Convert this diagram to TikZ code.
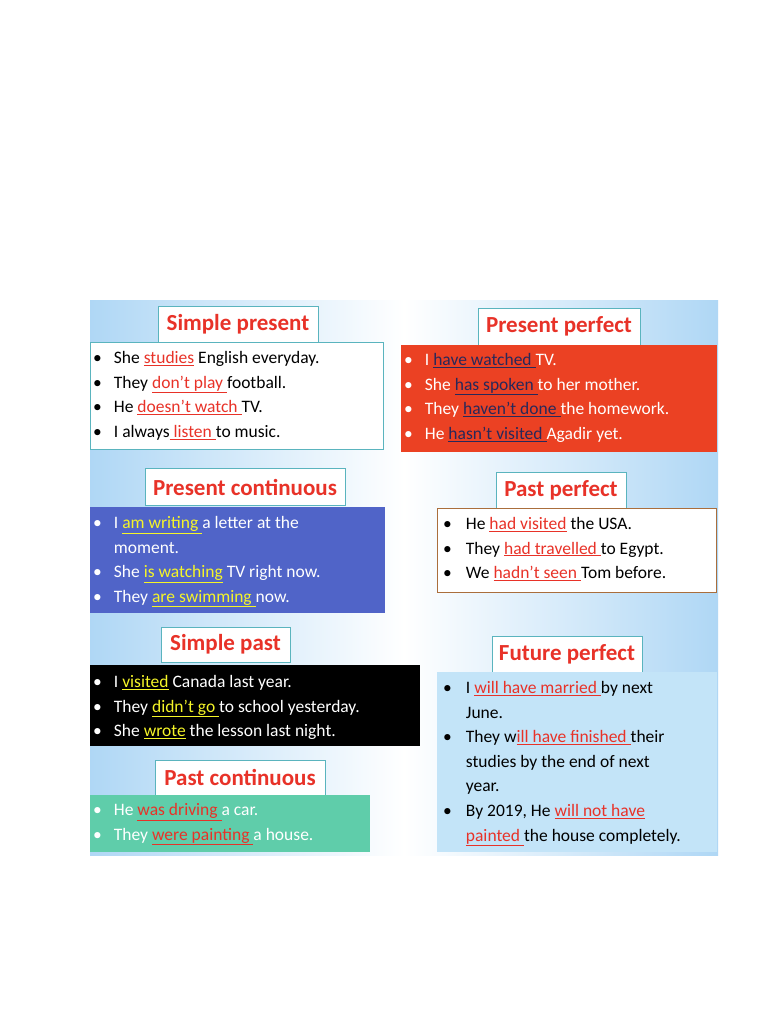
\documentclass[tikz,border=0pt]{standalone}
\usepackage{fontspec}
\setmainfont{Carlito}
\definecolor{tred}{RGB}{232,50,40}
\definecolor{teal1}{RGB}{90,180,190}
\definecolor{bgb}{RGB}{175,215,245}
\definecolor{pcblue}{RGB}{80,100,200}
\definecolor{ppred}{RGB}{235,65,35}
\definecolor{navy}{RGB}{40,40,90}
\definecolor{yel}{RGB}{245,245,40}
\definecolor{pcgreen}{RGB}{95,205,170}
\definecolor{fpblue}{RGB}{195,228,248}
\definecolor{brownb}{RGB}{170,110,60}
\newcommand\hlt[2]{{\color{#1}$\underline{\hbox{#2}}$}}
\newcommand\bl{\textbullet}
\begin{document}
\begin{tikzpicture}[x=1pt,y=-1pt,
  ttl/.style={draw=teal1,fill=white,line width=0.8pt,inner sep=0pt,text=tred,font=\fontsize{23}{26}\selectfont\bfseries},
  body/.style={anchor=north west,inner sep=0pt,align=left,font=\fontsize{17.5}{24.6}\selectfont}]
\useasboundingbox (0,0) rectangle (768,1024);
\fill[white] (0,0) rectangle (768,1024);
\shade[left color=bgb,right color=bgb,middle color=white] (90,300) rectangle (718,855);
% left column
\node[ttl,minimum width=160,minimum height=36] (t1) at (238,324) {Simple present};
\draw[teal1,fill=white,line width=0.8pt] (90,342) rectangle (383,449);
\node[body] (b1) at (93,346) {\begin{tabular}{@{}l@{\hspace{12pt}}l@{}}
\bl & She \hlt{tred}{studies} English everyday.\\
\bl & They \hlt{tred}{don’t play }football.\\
\bl & He \hlt{tred}{doesn’t watch }TV.\\
\bl & I always\hlt{tred}{ listen }to music.\end{tabular}};
\node[ttl,minimum width=200,minimum height=37] (t2) at (245,487) {Present continuous};
\fill[pcblue] (90,507) rectangle (385,613);
\node[body,text=white] (b2) at (93,511) {\begin{tabular}{@{}l@{\hspace{12pt}}l@{}}
\bl & I \hlt{yel}{am writing }a letter at the\\
 & moment.\\
\bl & She \hlt{yel}{is watching} TV right now.\\
\bl & They \hlt{yel}{are swimming }now.\end{tabular}};
\node[ttl,minimum width=129,minimum height=35] (t3) at (225.5,644.5) {Simple past};
\fill[black] (90,665) rectangle (420,746);
\node[body,text=white] (b3) at (93,670) {\begin{tabular}{@{}l@{\hspace{12pt}}l@{}}
\bl & I \hlt{yel}{visited} Canada last year.\\
\bl & They \hlt{yel}{didn’t go }to school yesterday.\\
\bl & She \hlt{yel}{wrote} the lesson last night.\end{tabular}};
\node[ttl,minimum width=170,minimum height=35] (t4) at (240,777.5) {Past continuous};
\fill[pcgreen] (90,795) rectangle (370,852);
\node[body,text=white] (b4) at (93,798) {\begin{tabular}{@{}l@{\hspace{12pt}}l@{}}
\bl & He \hlt{tred}{was driving }a car.\\
\bl & They \hlt{tred}{were painting }a house.\end{tabular}};
% right column
\node[ttl,minimum width=162,minimum height=37] (t5) at (559,326.5) {Present perfect};
\fill[ppred] (401,345) rectangle (717,452);
\node[body,text=white] (b5) at (404,348) {\begin{tabular}{@{}l@{\hspace{12pt}}l@{}}
\bl & I \hlt{navy}{have watched }TV.\\
\bl & She \hlt{navy}{has spoken }to her mother.\\
\bl & They \hlt{navy}{haven’t done }the homework.\\
\bl & He \hlt{navy}{hasn’t visited }Agadir yet.\end{tabular}};
\node[ttl,minimum width=130,minimum height=36] (t6) at (561,490) {Past perfect};
\draw[brownb,fill=white,line width=0.8pt] (437,508) rectangle (716,592);
\node[body] (b6) at (443,512) {\begin{tabular}{@{}l@{\hspace{14pt}}l@{}}
\bl & He \hlt{tred}{had visited} the USA.\\
\bl & They \hlt{tred}{had travelled }to Egypt.\\
\bl & We \hlt{tred}{hadn’t seen }Tom before.\end{tabular}};
\node[ttl,minimum width=150,minimum height=36] (t7) at (567,654) {Future perfect};
\fill[fpblue] (437,672) rectangle (717,852);
\node[body] (b7) at (443,676) {\begin{tabular}{@{}l@{\hspace{14pt}}l@{}}
\bl & I \hlt{tred}{will have married }by next\\
 & June.\\
\bl & They w\hlt{tred}{ill have finished }their\\
 & studies by the end of next\\
 & year.\\
\bl & By 2019, He \hlt{tred}{will not have}\\
 & \hlt{tred}{painted }the house completely.\end{tabular}};
\end{tikzpicture}
\end{document}
